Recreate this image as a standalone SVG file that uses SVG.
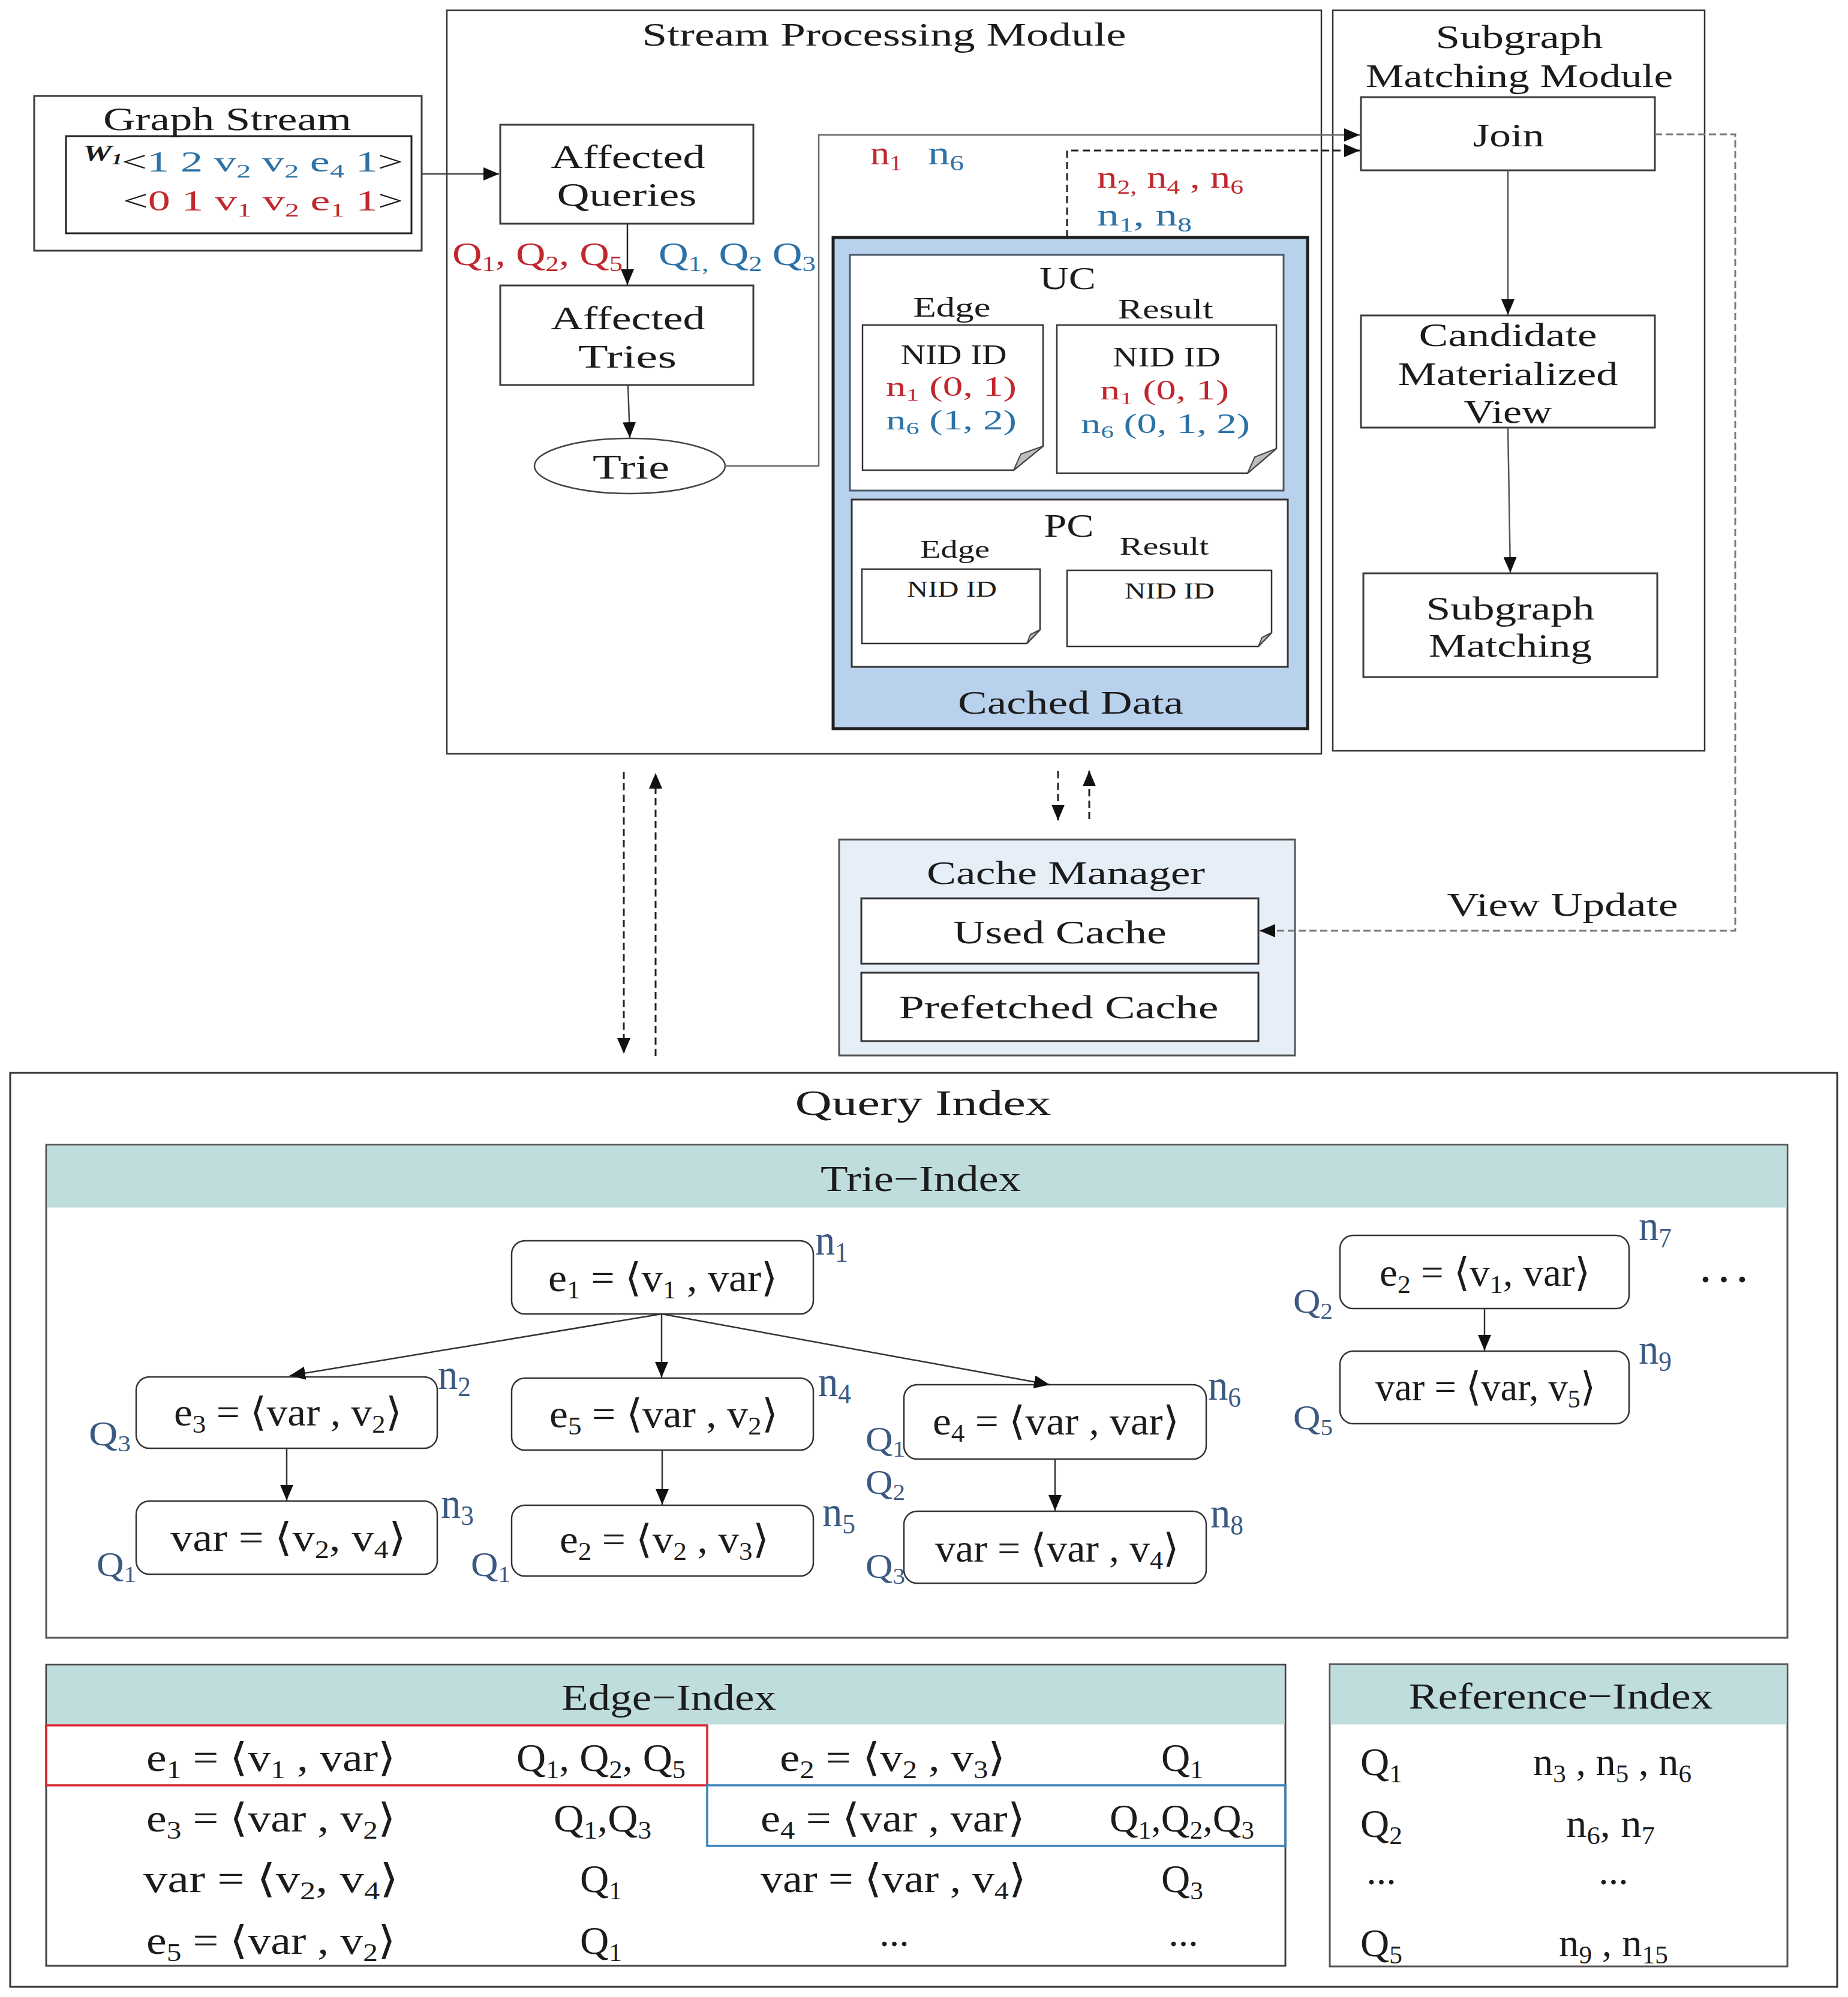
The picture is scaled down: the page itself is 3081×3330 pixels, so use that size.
<svg xmlns="http://www.w3.org/2000/svg" width="3081" height="3330" viewBox="0 0 3081 3330">
<style>
text{font-family:"Liberation Serif","Times New Roman",serif;fill:#1c1c1c}
.box{fill:#fff;stroke:#3c3c3c;stroke-width:3}
.mod{fill:#fff;stroke:#333;stroke-width:2.5}
.ln{fill:none;stroke:#444;stroke-width:2.5}
.dash{fill:none;stroke:#222;stroke-width:3;stroke-dasharray:12 7}
.gdash{fill:none;stroke:#7a7a7a;stroke-width:3;stroke-dasharray:12 6}
.red{fill:#c1282e}
.blu{fill:#2c72a6}
.nl{fill:#3b5a82}
.s{font-size:65%}
.hd{fill:#bfdddd}
.tn{fill:#fff;stroke:#333;stroke-width:2.5}
.doc{fill:#fff;stroke:#333;stroke-width:2.5}
.fold{fill:#bdbdbd;stroke:#444;stroke-width:2}
.top{font-size:54px}
.frm{font-size:66px}
.ql{font-size:58px}
.nn{font-size:72px}
</style>
<defs>
<marker id="ah" markerUnits="userSpaceOnUse" markerWidth="26" markerHeight="22" viewBox="0 0 26 22" refX="26" refY="11" orient="auto"><path d="M0,0 L26,11 L0,22 z" fill="#111"/></marker>
</defs>

<g id="stream-processing-module">
<rect class="mod" x="745" y="17" width="1458" height="1240"/>
<text class="top" x="1474" y="76" text-anchor="middle" textLength="807" lengthAdjust="spacingAndGlyphs">Stream Processing Module</text>
</g>

<g id="subgraph-matching-module">
<rect class="mod" x="2222" y="17" width="620" height="1235"/>
<text class="top" x="2533" y="80" text-anchor="middle" textLength="279" lengthAdjust="spacingAndGlyphs">Subgraph</text>
<text class="top" x="2533" y="145" text-anchor="middle" textLength="512" lengthAdjust="spacingAndGlyphs">Matching Module</text>
</g>

<g id="graph-stream">
<rect class="box" x="57" y="160" width="646" height="258" stroke="#444"/>
<rect class="box" x="110" y="227" width="576" height="162" style="stroke:#222"/>
<text class="top" x="379" y="217" text-anchor="middle" textLength="414" lengthAdjust="spacingAndGlyphs">Graph Stream</text>
<text x="138" y="268" font-size="38" font-style="italic" font-weight="bold" textLength="66" lengthAdjust="spacingAndGlyphs">W<tspan class="s" dy="6">1</tspan></text>
<text x="203" y="286" font-size="48" textLength="469" lengthAdjust="spacingAndGlyphs">&lt;<tspan class="blu">1 2 v<tspan class="s" dy="10">2</tspan><tspan dy="-10"> v</tspan><tspan class="s" dy="10">2</tspan><tspan dy="-10"> e</tspan><tspan class="s" dy="10">4</tspan><tspan dy="-10"> 1</tspan></tspan>&gt;</text>
<text x="205" y="351" font-size="48" textLength="467" lengthAdjust="spacingAndGlyphs">&lt;<tspan class="red">0 1 v<tspan class="s" dy="10">1</tspan><tspan dy="-10"> v</tspan><tspan class="s" dy="10">2</tspan><tspan dy="-10"> e</tspan><tspan class="s" dy="10">1</tspan><tspan dy="-10"> 1</tspan></tspan>&gt;</text>
</g>

<g id="affected-queries">
<rect class="box" x="834" y="208" width="422" height="165"/>
<text class="top" x="1047" y="280" text-anchor="middle" textLength="257" lengthAdjust="spacingAndGlyphs">Affected</text>
<text class="top" x="1045" y="343" text-anchor="middle" textLength="233" lengthAdjust="spacingAndGlyphs">Queries</text>
</g>

<g id="affected-tries">
<rect class="box" x="834" y="476" width="422" height="166"/>
<text class="top" x="1047" y="549" text-anchor="middle" textLength="257" lengthAdjust="spacingAndGlyphs">Affected</text>
<text class="top" x="1046" y="613" text-anchor="middle" textLength="164" lengthAdjust="spacingAndGlyphs">Tries</text>
</g>

<g id="trie">
<ellipse cx="1050" cy="777" rx="159" ry="46" fill="#fff" stroke="#444" stroke-width="2.5"/>
<text x="1052" y="798" text-anchor="middle" font-size="58" textLength="128" lengthAdjust="spacingAndGlyphs">Trie</text>
</g>

<g id="cached-data">
<rect x="1389" y="396" width="791" height="819" fill="#b8d1ed" stroke="#1f1f1f" stroke-width="5"/>
<rect x="1417" y="425" width="723" height="393" fill="#fff" stroke="#4a5a6a" stroke-width="3"/>
<text x="1780" y="482" text-anchor="middle" font-size="52" textLength="94" lengthAdjust="spacingAndGlyphs">UC</text>
<text x="1587" y="528" text-anchor="middle" font-size="46" textLength="129" lengthAdjust="spacingAndGlyphs">Edge</text>
<text x="1943" y="531" text-anchor="middle" font-size="46" textLength="159" lengthAdjust="spacingAndGlyphs">Result</text>
<path class="doc" d="M1438,542 H1739 V744 L1690,784 H1438 Z"/>
<path class="fold" d="M1739,744 L1690,784 L1702,757 Z"/>
<path class="doc" d="M1762,542 H2128 V748 L2080,789 H1762 Z"/>
<path class="fold" d="M2128,748 L2080,789 L2092,762 Z"/>
<text x="1590" y="607" text-anchor="middle" font-size="46" textLength="177" lengthAdjust="spacingAndGlyphs">NID ID</text>
<text x="1477" y="660" font-size="46" textLength="218" lengthAdjust="spacingAndGlyphs" class="red">n<tspan class="s" dy="8">1</tspan><tspan dy="-8"> (0, 1)</tspan></text>
<text x="1477" y="716" font-size="46" textLength="218" lengthAdjust="spacingAndGlyphs" class="blu">n<tspan class="s" dy="8">6</tspan><tspan dy="-8"> (1, 2)</tspan></text>
<text x="1945" y="611" text-anchor="middle" font-size="46" textLength="180" lengthAdjust="spacingAndGlyphs">NID ID</text>
<text x="1834" y="666" font-size="46" textLength="215" lengthAdjust="spacingAndGlyphs" class="red">n<tspan class="s" dy="8">1</tspan><tspan dy="-8"> (0, 1)</tspan></text>
<text x="1802" y="722" font-size="46" textLength="282" lengthAdjust="spacingAndGlyphs" class="blu">n<tspan class="s" dy="8">6</tspan><tspan dy="-8"> (0, 1, 2)</tspan></text>
<rect x="1420" y="833" width="727" height="279" fill="#fff" stroke="#333" stroke-width="3"/>
<text x="1782" y="895" text-anchor="middle" font-size="54" textLength="83" lengthAdjust="spacingAndGlyphs">PC</text>
<text x="1592" y="930" text-anchor="middle" font-size="42" textLength="116" lengthAdjust="spacingAndGlyphs">Edge</text>
<text x="1941" y="925" text-anchor="middle" font-size="42" textLength="149" lengthAdjust="spacingAndGlyphs">Result</text>
<path class="doc" d="M1437,949 H1734 V1050 L1712,1073 H1437 Z"/>
<path class="fold" d="M1734,1050 L1712,1073 L1718,1058 Z"/>
<path class="doc" d="M1779,951 H2120 V1055 L2098,1078 H1779 Z"/>
<path class="fold" d="M2120,1055 L2098,1078 L2104,1063 Z"/>
<text x="1587" y="995" text-anchor="middle" font-size="38" textLength="150" lengthAdjust="spacingAndGlyphs">NID ID</text>
<text x="1950" y="998" text-anchor="middle" font-size="38" textLength="150" lengthAdjust="spacingAndGlyphs">NID ID</text>
<text x="1785" y="1190" text-anchor="middle" font-size="54" textLength="376" lengthAdjust="spacingAndGlyphs">Cached Data</text>
</g>

<g id="join">
<rect class="box" x="2269" y="162" width="490" height="122"/>
<text class="top" x="2515" y="244" text-anchor="middle" textLength="119" lengthAdjust="spacingAndGlyphs">Join</text>
</g>

<g id="candidate-materialized-view">
<rect class="box" x="2269" y="526" width="490" height="187"/>
<text class="top" x="2514" y="577" text-anchor="middle" textLength="297" lengthAdjust="spacingAndGlyphs">Candidate</text>
<text class="top" x="2514" y="642" text-anchor="middle" textLength="367" lengthAdjust="spacingAndGlyphs">Materialized</text>
<text class="top" x="2514" y="705" text-anchor="middle" textLength="147" lengthAdjust="spacingAndGlyphs">View</text>
</g>

<g id="subgraph-matching">
<rect class="box" x="2273" y="956" width="490" height="173"/>
<text class="top" x="2518" y="1033" text-anchor="middle" textLength="281" lengthAdjust="spacingAndGlyphs">Subgraph</text>
<text class="top" x="2518" y="1095" text-anchor="middle" textLength="272" lengthAdjust="spacingAndGlyphs">Matching</text>
</g>

<g id="cache-manager">
<rect x="1399" y="1400" width="760" height="360" fill="#e6eef8" stroke="#555" stroke-width="3"/>
<text class="top" x="1777" y="1474" text-anchor="middle" textLength="464" lengthAdjust="spacingAndGlyphs">Cache Manager</text>
<rect class="box" x="1436" y="1498" width="662" height="109" style="stroke:#333"/>
<text class="top" x="1767" y="1573" text-anchor="middle" textLength="356" lengthAdjust="spacingAndGlyphs">Used Cache</text>
<rect class="box" x="1436" y="1622" width="662" height="114" style="stroke:#333"/>
<text class="top" x="1765" y="1698" text-anchor="middle" textLength="533" lengthAdjust="spacingAndGlyphs">Prefetched Cache</text>
</g>

<g id="connectors">
<line class="ln" x1="703" y1="290" x2="832" y2="290" marker-end="url(#ah)"/>
<line class="ln" x1="1046" y1="373" x2="1046" y2="475" style="stroke:#222" marker-end="url(#ah)"/>
<line class="ln" x1="1047" y1="642" x2="1050" y2="730" marker-end="url(#ah)"/>
<polyline class="ln" points="1209,777 1365,777 1365,225 2267,225" style="stroke:#666" marker-end="url(#ah)"/>
<polyline class="dash" points="1779,396 1779,251 2267,251" marker-end="url(#ah)"/>
<line class="ln" x1="2514" y1="284" x2="2514" y2="525" style="stroke:#555" marker-end="url(#ah)"/>
<line class="ln" x1="2514" y1="713" x2="2518" y2="955" style="stroke:#555" marker-end="url(#ah)"/>
<polyline class="gdash" points="2759,224 2893,224 2893,1552 2100,1552" marker-end="url(#ah)"/>
<line class="dash" x1="1764" y1="1286" x2="1764" y2="1368" marker-end="url(#ah)"/>
<line class="dash" x1="1816" y1="1366" x2="1816" y2="1285" marker-end="url(#ah)"/>
<line class="dash" x1="1040" y1="1287" x2="1040" y2="1757" marker-end="url(#ah)"/>
<line class="dash" x1="1093" y1="1761" x2="1093" y2="1289" marker-end="url(#ah)"/>
<text class="red" x="754" y="442" font-size="54" textLength="284" lengthAdjust="spacingAndGlyphs">Q<tspan class="s" dy="10">1</tspan><tspan dy="-10">, Q</tspan><tspan class="s" dy="10">2</tspan><tspan dy="-10">, Q</tspan><tspan class="s" dy="10">5</tspan></text>
<text class="blu" x="1098" y="442" font-size="54" textLength="262" lengthAdjust="spacingAndGlyphs">Q<tspan class="s" dy="10">1,</tspan><tspan dy="-10"> Q</tspan><tspan class="s" dy="10">2</tspan><tspan dy="-10"> Q</tspan><tspan class="s" dy="10">3</tspan></text>
<text x="1451" y="274" font-size="56" class="red" textLength="53" lengthAdjust="spacingAndGlyphs">n<tspan class="s" dy="10">1</tspan></text>
<text x="1547" y="274" font-size="56" class="blu" textLength="60" lengthAdjust="spacingAndGlyphs">n<tspan class="s" dy="10">6</tspan></text>
<text x="1829" y="313" font-size="52" class="red" textLength="244" lengthAdjust="spacingAndGlyphs">n<tspan class="s" dy="10">2,</tspan><tspan dy="-10"> n</tspan><tspan class="s" dy="10">4</tspan><tspan dy="-10"> , n</tspan><tspan class="s" dy="10">6</tspan></text>
<text x="1829" y="376" font-size="52" class="blu" textLength="158" lengthAdjust="spacingAndGlyphs">n<tspan class="s" dy="10">1</tspan><tspan dy="-10">, n</tspan><tspan class="s" dy="10">8</tspan></text>
<text x="2605" y="1527" text-anchor="middle" font-size="55" textLength="385" lengthAdjust="spacingAndGlyphs">View Update</text>
</g>

<g id="query-index">
<rect x="17" y="1789" width="3046" height="1524" fill="none" stroke="#333" stroke-width="3"/>
<text x="1539" y="1859" text-anchor="middle" font-size="60" textLength="427" lengthAdjust="spacingAndGlyphs">Query Index</text>
</g>

<g id="trie-index">
<rect x="77" y="1909" width="2903" height="822" fill="#fff" stroke="#555" stroke-width="3"/>
<rect class="hd" x="78.5" y="1910.5" width="2900" height="103"/>
<text x="1535" y="1986" text-anchor="middle" font-size="62" textLength="334" lengthAdjust="spacingAndGlyphs">Trie−Index</text>
<text x="2836" y="2138" font-size="60" font-weight="bold" textLength="76" lengthAdjust="spacing">...</text>
</g>

<g id="trie-n1">
<rect class="tn" x="853" y="2069" width="503" height="122" rx="22"/>
<text class="frm" x="914" y="2153" textLength="383" lengthAdjust="spacingAndGlyphs">e<tspan class="s" dy="12">1</tspan><tspan dy="-12"> = ⟨v</tspan><tspan class="s" dy="12">1</tspan><tspan dy="-12"> , var⟩</tspan></text>
<text class="nn nl" x="1359" y="2092" textLength="55" lengthAdjust="spacingAndGlyphs">n<tspan class="s" dy="12">1</tspan></text>
</g>
<g id="trie-n2">
<rect class="tn" x="227" y="2296" width="502" height="119" rx="22"/>
<text class="frm" x="290" y="2377" textLength="380" lengthAdjust="spacingAndGlyphs">e<tspan class="s" dy="12">3</tspan><tspan dy="-12"> = ⟨var , v</tspan><tspan class="s" dy="12">2</tspan><tspan dy="-12">⟩</tspan></text>
<text class="nn nl" x="730" y="2316" textLength="55" lengthAdjust="spacingAndGlyphs">n<tspan class="s" dy="12">2</tspan></text>
<text class="ql nl" x="148" y="2410" textLength="70" lengthAdjust="spacingAndGlyphs">Q<tspan class="s" dy="10">3</tspan></text>
</g>
<g id="trie-n3">
<rect class="tn" x="227" y="2503" width="502" height="122" rx="22"/>
<text class="frm" x="284" y="2586" textLength="393" lengthAdjust="spacingAndGlyphs">var  = ⟨v<tspan class="s" dy="12">2</tspan><tspan dy="-12">, v</tspan><tspan class="s" dy="12">4</tspan><tspan dy="-12">⟩</tspan></text>
<text class="nn nl" x="735" y="2531" textLength="55" lengthAdjust="spacingAndGlyphs">n<tspan class="s" dy="12">3</tspan></text>
<text class="ql nl" x="161" y="2628" textLength="66" lengthAdjust="spacingAndGlyphs">Q<tspan class="s" dy="10">1</tspan></text>
</g>
<g id="trie-n4">
<rect class="tn" x="853" y="2298" width="503" height="120" rx="22"/>
<text class="frm" x="916" y="2380" textLength="381" lengthAdjust="spacingAndGlyphs">e<tspan class="s" dy="12">5</tspan><tspan dy="-12"> = ⟨var , v</tspan><tspan class="s" dy="12">2</tspan><tspan dy="-12">⟩</tspan></text>
<text class="nn nl" x="1364" y="2328" textLength="55" lengthAdjust="spacingAndGlyphs">n<tspan class="s" dy="12">4</tspan></text>
</g>
<g id="trie-n5">
<rect class="tn" x="853" y="2510" width="503" height="118" rx="22"/>
<text class="frm" x="933" y="2589" textLength="349" lengthAdjust="spacingAndGlyphs">e<tspan class="s" dy="12">2</tspan><tspan dy="-12"> = ⟨v</tspan><tspan class="s" dy="12">2</tspan><tspan dy="-12"> , v</tspan><tspan class="s" dy="12">3</tspan><tspan dy="-12">⟩</tspan></text>
<text class="nn nl" x="1371" y="2545" textLength="55" lengthAdjust="spacingAndGlyphs">n<tspan class="s" dy="12">5</tspan></text>
<text class="ql nl" x="785" y="2628" textLength="66" lengthAdjust="spacingAndGlyphs">Q<tspan class="s" dy="10">1</tspan></text>
</g>
<g id="trie-n6">
<rect class="tn" x="1507" y="2309" width="504" height="124" rx="22"/>
<text class="frm" x="1555" y="2392" textLength="411" lengthAdjust="spacingAndGlyphs">e<tspan class="s" dy="12">4</tspan><tspan dy="-12"> = ⟨var , var⟩</tspan></text>
<text class="nn nl" x="2014" y="2334" textLength="55" lengthAdjust="spacingAndGlyphs">n<tspan class="s" dy="12">6</tspan></text>
<text class="ql nl" x="1443" y="2419" font-size="54" textLength="66" lengthAdjust="spacingAndGlyphs">Q<tspan class="s" dy="10">1</tspan></text>
<text class="ql nl" x="1443" y="2491" font-size="54" textLength="66" lengthAdjust="spacingAndGlyphs">Q<tspan class="s" dy="10">2</tspan></text>
</g>
<g id="trie-n8">
<rect class="tn" x="1507" y="2520" width="504" height="120" rx="22"/>
<text class="frm" x="1559" y="2604" textLength="407" lengthAdjust="spacingAndGlyphs">var = ⟨var , v<tspan class="s" dy="12">4</tspan><tspan dy="-12">⟩</tspan></text>
<text class="nn nl" x="2018" y="2547" textLength="55" lengthAdjust="spacingAndGlyphs">n<tspan class="s" dy="12">8</tspan></text>
<text class="ql nl" x="1443" y="2631" textLength="66" lengthAdjust="spacingAndGlyphs">Q<tspan class="s" dy="10">3</tspan></text>
</g>
<g id="trie-n7">
<rect class="tn" x="2234" y="2060" width="482" height="122" rx="22"/>
<text class="frm" x="2300" y="2144" textLength="352" lengthAdjust="spacingAndGlyphs">e<tspan class="s" dy="12">2</tspan><tspan dy="-12"> = ⟨v</tspan><tspan class="s" dy="12">1</tspan><tspan dy="-12">, var⟩</tspan></text>
<text class="nn nl" x="2732" y="2068" textLength="55" lengthAdjust="spacingAndGlyphs">n<tspan class="s" dy="12">7</tspan></text>
<text class="ql nl" x="2156" y="2189" textLength="66" lengthAdjust="spacingAndGlyphs">Q<tspan class="s" dy="10">2</tspan></text>
</g>
<g id="trie-n9">
<rect class="tn" x="2234" y="2253" width="482" height="121" rx="22"/>
<text class="frm" x="2293" y="2335" textLength="367" lengthAdjust="spacingAndGlyphs">var = ⟨var, v<tspan class="s" dy="12">5</tspan><tspan dy="-12">⟩</tspan></text>
<text class="nn nl" x="2732" y="2274" textLength="55" lengthAdjust="spacingAndGlyphs">n<tspan class="s" dy="12">9</tspan></text>
<text class="ql nl" x="2156" y="2383" textLength="66" lengthAdjust="spacingAndGlyphs">Q<tspan class="s" dy="10">5</tspan></text>
</g>

<g id="trie-connectors">
<line class="ln" x1="1103" y1="2191" x2="483" y2="2294" style="stroke:#333" marker-end="url(#ah)"/>
<line class="ln" x1="1103" y1="2191" x2="1103" y2="2297" style="stroke:#333" marker-end="url(#ah)"/>
<line class="ln" x1="1103" y1="2191" x2="1750" y2="2309" style="stroke:#333" marker-end="url(#ah)"/>
<line class="ln" x1="478" y1="2415" x2="478" y2="2502" style="stroke:#333" marker-end="url(#ah)"/>
<line class="ln" x1="1104" y1="2418" x2="1104" y2="2509" style="stroke:#333" marker-end="url(#ah)"/>
<line class="ln" x1="1759" y1="2433" x2="1759" y2="2519" style="stroke:#333" marker-end="url(#ah)"/>
<line class="ln" x1="2475" y1="2182" x2="2475" y2="2252" style="stroke:#333" marker-end="url(#ah)"/>
</g>

<g id="edge-index">
<rect x="77" y="2776" width="2066" height="502" fill="#fff" stroke="#444" stroke-width="3"/>
<rect class="hd" x="78.5" y="2777.5" width="2063" height="98"/>
<text x="1115" y="2851" text-anchor="middle" font-size="62" textLength="358" lengthAdjust="spacingAndGlyphs">Edge−Index</text>
<rect x="77" y="2877" width="1102" height="100" fill="none" stroke="#d9262e" stroke-width="3.5"/>
<rect x="1179" y="2977" width="964" height="101" fill="none" stroke="#3a80b8" stroke-width="3.5"/>
<text class="frm" x="244" y="2953" textLength="416" lengthAdjust="spacingAndGlyphs">e<tspan class="s" dy="12">1</tspan><tspan dy="-12"> = ⟨v</tspan><tspan class="s" dy="12">1</tspan><tspan dy="-12"> , var⟩</tspan></text>
<text class="frm" x="861" y="2953" textLength="282" lengthAdjust="spacingAndGlyphs">Q<tspan class="s" dy="12">1</tspan><tspan dy="-12">, Q</tspan><tspan class="s" dy="12">2</tspan><tspan dy="-12">, Q</tspan><tspan class="s" dy="12">5</tspan></text>
<text class="frm" x="1300" y="2953" textLength="377" lengthAdjust="spacingAndGlyphs">e<tspan class="s" dy="12">2</tspan><tspan dy="-12"> = ⟨v</tspan><tspan class="s" dy="12">2</tspan><tspan dy="-12"> , v</tspan><tspan class="s" dy="12">3</tspan><tspan dy="-12">⟩</tspan></text>
<text class="frm" x="1936" y="2953" textLength="70" lengthAdjust="spacingAndGlyphs">Q<tspan class="s" dy="12">1</tspan></text>
<text class="frm" x="244" y="3054" textLength="416" lengthAdjust="spacingAndGlyphs">e<tspan class="s" dy="12">3</tspan><tspan dy="-12"> = ⟨var , v</tspan><tspan class="s" dy="12">2</tspan><tspan dy="-12">⟩</tspan></text>
<text class="frm" x="923" y="3054" textLength="163" lengthAdjust="spacingAndGlyphs">Q<tspan class="s" dy="12">1</tspan><tspan dy="-12">,Q</tspan><tspan class="s" dy="12">3</tspan></text>
<text class="frm" x="1268" y="3054" textLength="441" lengthAdjust="spacingAndGlyphs">e<tspan class="s" dy="12">4</tspan><tspan dy="-12"> = ⟨var , var⟩</tspan></text>
<text class="frm" x="1850" y="3054" textLength="241" lengthAdjust="spacingAndGlyphs">Q<tspan class="s" dy="12">1</tspan><tspan dy="-12">,Q</tspan><tspan class="s" dy="12">2</tspan><tspan dy="-12">,Q</tspan><tspan class="s" dy="12">3</tspan></text>
<text class="frm" x="239" y="3155" textLength="426" lengthAdjust="spacingAndGlyphs">var  = ⟨v<tspan class="s" dy="12">2</tspan><tspan dy="-12">, v</tspan><tspan class="s" dy="12">4</tspan><tspan dy="-12">⟩</tspan></text>
<text class="frm" x="967" y="3155" textLength="70" lengthAdjust="spacingAndGlyphs">Q<tspan class="s" dy="12">1</tspan></text>
<text class="frm" x="1268" y="3155" textLength="443" lengthAdjust="spacingAndGlyphs">var = ⟨var , v<tspan class="s" dy="12">4</tspan><tspan dy="-12">⟩</tspan></text>
<text class="frm" x="1936" y="3155" textLength="70" lengthAdjust="spacingAndGlyphs">Q<tspan class="s" dy="12">3</tspan></text>
<text class="frm" x="244" y="3258" textLength="416" lengthAdjust="spacingAndGlyphs">e<tspan class="s" dy="12">5</tspan><tspan dy="-12"> = ⟨var , v</tspan><tspan class="s" dy="12">2</tspan><tspan dy="-12">⟩</tspan></text>
<text class="frm" x="967" y="3258" textLength="70" lengthAdjust="spacingAndGlyphs">Q<tspan class="s" dy="12">1</tspan></text>
<text class="frm" x="1491" y="3245" text-anchor="middle">...</text>
<text class="frm" x="1973" y="3245" text-anchor="middle">...</text>
</g>

<g id="reference-index">
<rect x="2217" y="2775" width="763" height="504" fill="#fff" stroke="#555" stroke-width="3"/>
<rect class="hd" x="2218.5" y="2776.5" width="760" height="99"/>
<text x="2602" y="2849" text-anchor="middle" font-size="62" textLength="507" lengthAdjust="spacingAndGlyphs">Reference−Index</text>
<text class="frm" x="2268" y="2960" textLength="70" lengthAdjust="spacingAndGlyphs">Q<tspan class="s" dy="12">1</tspan></text>
<text class="frm" x="2556" y="2960" textLength="264" lengthAdjust="spacingAndGlyphs">n<tspan class="s" dy="12">3</tspan><tspan dy="-12"> , n</tspan><tspan class="s" dy="12">5</tspan><tspan dy="-12"> , n</tspan><tspan class="s" dy="12">6</tspan></text>
<text class="frm" x="2268" y="3063" textLength="70" lengthAdjust="spacingAndGlyphs">Q<tspan class="s" dy="12">2</tspan></text>
<text class="frm" x="2611" y="3063" textLength="148" lengthAdjust="spacingAndGlyphs">n<tspan class="s" dy="12">6</tspan><tspan dy="-12">, n</tspan><tspan class="s" dy="12">7</tspan></text>
<text class="frm" x="2303" y="3142" text-anchor="middle">...</text>
<text class="frm" x="2690" y="3142" text-anchor="middle">...</text>
<text class="frm" x="2268" y="3262" textLength="70" lengthAdjust="spacingAndGlyphs">Q<tspan class="s" dy="12">5</tspan></text>
<text class="frm" x="2599" y="3262" textLength="182" lengthAdjust="spacingAndGlyphs">n<tspan class="s" dy="12">9</tspan><tspan dy="-12"> , n</tspan><tspan class="s" dy="12">15</tspan></text>
</g>
</svg>
